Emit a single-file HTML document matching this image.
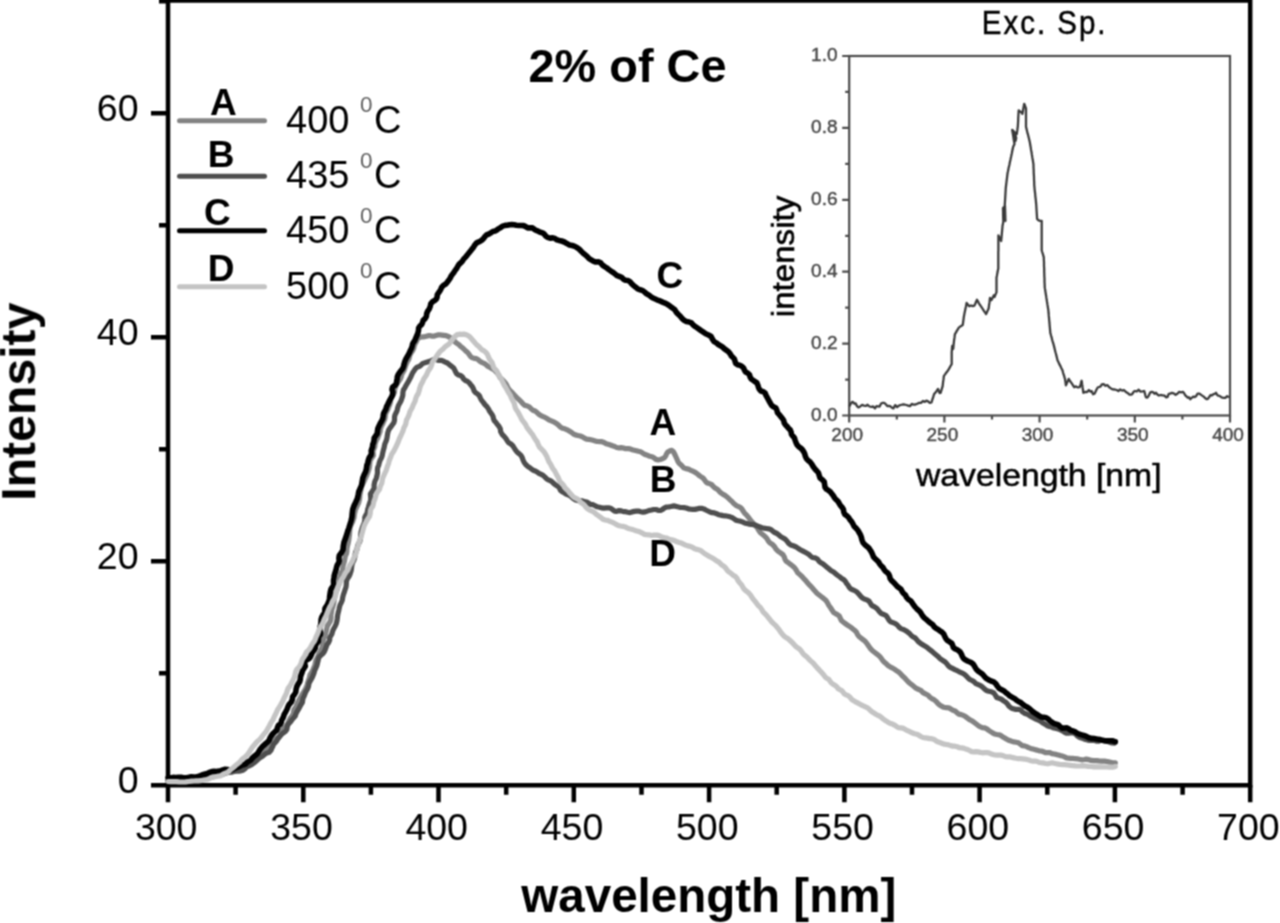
<!DOCTYPE html><html><head><meta charset="utf-8"><title>Emission spectra</title><style>html,body{margin:0;padding:0;background:#fff;overflow:hidden}svg{display:block}text{font-family:'Liberation Sans', Arial, sans-serif}</style></head><body>
<svg width="1280" height="923" viewBox="0 0 1280 923">
<defs><filter id="soft" x="0" y="0" width="1280" height="923" filterUnits="userSpaceOnUse" color-interpolation-filters="sRGB"><feConvolveMatrix order="3" kernelMatrix="0.0625 0.125 0.0625 0.125 0.25 0.125 0.0625 0.125 0.0625" edgeMode="duplicate"/></filter></defs>
<rect width="1280" height="923" fill="#fff"/>
<g filter="url(#soft)">
<rect width="1280" height="923" fill="#fff"/>
<g stroke="#000" stroke-width="4.5" fill="none" stroke-linecap="butt">
<path d="M168.0,785.2 L168.0,-2 M1250.1999999999998,787.45 L1250.1999999999998,-2 M165.75,785.2 L1252.4499999999998,785.2 M159.0,0.6 L1252.1999999999998,0.6"/>
<path d="M168.0,785.2 L168.0,802.2 M235.6,785.2 L235.6,794.7 M303.3,785.2 L303.3,802.2 M370.9,785.2 L370.9,794.7 M438.5,785.2 L438.5,802.2 M506.2,785.2 L506.2,794.7 M573.8,785.2 L573.8,802.2 M641.5,785.2 L641.5,794.7 M709.1,785.2 L709.1,802.2 M776.7,785.2 L776.7,794.7 M844.4,785.2 L844.4,802.2 M912.0,785.2 L912.0,794.7 M979.6,785.2 L979.6,802.2 M1047.3,785.2 L1047.3,794.7 M1114.9,785.2 L1114.9,802.2 M1182.6,785.2 L1182.6,794.7 M1250.2,785.2 L1250.2,802.2 M168.0,785.2 L151.0,785.2 M168.0,673.2 L159.0,673.2 M168.0,561.2 L151.0,561.2 M168.0,449.2 L159.0,449.2 M168.0,337.2 L151.0,337.2 M168.0,225.2 L159.0,225.2 M168.0,113.2 L151.0,113.2 M168.0,1.2 L159.0,1.2 "/>
</g>
<text x="166.2" y="840" font-size="37.5" text-anchor="middle">300</text>
<text x="301.5" y="840" font-size="37.5" text-anchor="middle">350</text>
<text x="436.7" y="840" font-size="37.5" text-anchor="middle">400</text>
<text x="572.0" y="840" font-size="37.5" text-anchor="middle">450</text>
<text x="707.3" y="840" font-size="37.5" text-anchor="middle">500</text>
<text x="842.6" y="840" font-size="37.5" text-anchor="middle">550</text>
<text x="977.9" y="840" font-size="37.5" text-anchor="middle">600</text>
<text x="1113.1" y="840" font-size="37.5" text-anchor="middle">650</text>
<text x="1248.4" y="840" font-size="37.5" text-anchor="middle">700</text>
<text x="138.5" y="793.3" font-size="37.5" text-anchor="end">0</text>
<text x="138.5" y="569.3" font-size="37.5" text-anchor="end">20</text>
<text x="138.5" y="345.3" font-size="37.5" text-anchor="end">40</text>
<text x="138.5" y="121.3" font-size="37.5" text-anchor="end">60</text>
<text transform="translate(35.2,500.8) rotate(-90)" font-size="47.5" font-weight="bold" textLength="198.2" lengthAdjust="spacingAndGlyphs">Intensity</text>
<text x="521.3" y="912" font-size="47.5" font-weight="bold" textLength="375" lengthAdjust="spacingAndGlyphs">wavelength [nm]</text>
<text x="528.5" y="82.2" font-size="47" font-weight="bold" textLength="198" lengthAdjust="spacingAndGlyphs">2% of Ce</text>
<line x1="179.5" y1="120.7" x2="264.5" y2="120.7" stroke="#838383" stroke-width="5" stroke-linecap="round"/>
<text x="223.4" y="114.7" font-size="37" font-weight="bold" text-anchor="middle">A</text>
<text x="286" y="132.5" font-size="38">400</text>
<text x="360" y="112.1" font-size="22.5" fill="#606060">0</text>
<text x="374" y="132.5" font-size="38">C</text>
<line x1="179.5" y1="176.2" x2="264.5" y2="176.2" stroke="#4e4e4e" stroke-width="5" stroke-linecap="round"/>
<text x="221.2" y="167.2" font-size="37" font-weight="bold" text-anchor="middle">B</text>
<text x="286" y="187.9" font-size="38">435</text>
<text x="360" y="167.5" font-size="22.5" fill="#606060">0</text>
<text x="374" y="187.9" font-size="38">C</text>
<line x1="179.5" y1="230.8" x2="264.5" y2="230.8" stroke="#000" stroke-width="5" stroke-linecap="round"/>
<text x="217.4" y="224.7" font-size="37" font-weight="bold" text-anchor="middle">C</text>
<text x="286" y="243.3" font-size="38">450</text>
<text x="360" y="222.9" font-size="22.5" fill="#606060">0</text>
<text x="374" y="243.3" font-size="38">C</text>
<line x1="179.5" y1="286.8" x2="264.5" y2="286.8" stroke="#c4c4c4" stroke-width="5" stroke-linecap="round"/>
<text x="221.1" y="281" font-size="37" font-weight="bold" text-anchor="middle">D</text>
<text x="286" y="298.7" font-size="38">500</text>
<text x="360" y="278.3" font-size="22.5" fill="#606060">0</text>
<text x="374" y="298.7" font-size="38">C</text>
<path d="M168.0,780.0 L170.7,779.8 L173.0,779.1 L175.7,778.5 L178.7,778.4 L181.8,778.5 L185.0,778.2 L188.1,778.1 L191.1,778.5 L193.8,778.8 L196.2,778.5 L198.4,777.9 L200.6,777.8 L202.7,777.4 L204.7,776.9 L206.7,777.0 L209.7,777.3 L212.5,777.1 L215.1,776.0 L217.6,775.2 L220.2,774.8 L222.5,774.2 L224.7,773.4 L226.7,772.5 L228.8,772.1 L231.3,771.8 L233.5,771.2 L235.8,770.2 L238.0,769.4 L240.0,769.0 L242.1,768.4 L244.2,767.5 L246.2,766.4 L248.3,765.2 L250.1,763.7 L252.1,762.2 L254.1,760.4 L255.7,758.3 L257.2,756.9 L259.1,756.0 L261.4,754.6 L263.3,752.8 L265.2,751.0 L266.7,749.6 L267.8,747.8 L269.2,746.2 L271.0,744.9 L272.6,743.4 L274.0,741.5 L275.1,739.5 L276.9,737.8 L279.1,736.4 L280.5,734.3 L281.1,731.6 L282.4,729.4 L284.4,727.5 L286.3,725.5 L287.8,723.2 L289.0,720.6 L290.3,718.1 L292.1,715.7 L293.2,714.0 L293.5,711.9 L293.9,709.8 L295.1,708.1 L296.2,706.3 L296.8,704.3 L297.6,702.5 L299.0,699.9 L300.4,697.4 L301.8,694.9 L303.4,692.5 L304.9,690.1 L306.1,687.6 L307.2,685.1 L307.8,682.4 L308.7,679.9 L309.5,677.3 L310.0,674.7 L311.5,672.6 L312.8,670.3 L313.7,667.9 L314.8,665.5 L315.3,663.0 L315.8,660.4 L317.0,658.1 L318.1,655.8 L319.0,653.5 L320.4,651.2 L321.5,649.0 L322.1,646.6 L322.6,644.2 L323.0,641.7 L323.6,639.2 L324.7,636.8 L325.4,634.3 L326.1,631.6 L326.7,628.8 L327.4,626.0 L329.0,623.5 L330.5,620.9 L331.0,618.1 L331.0,615.2 L331.4,612.4 L331.9,609.6 L332.7,606.9 L333.5,604.3 L334.0,601.7 L334.2,599.1 L334.7,596.7 L335.2,594.4 L335.9,592.2 L336.9,590.2 L337.6,588.0 L338.3,585.9 L339.2,583.7 L339.4,581.3 L339.4,578.9 L339.8,576.6 L340.2,574.3 L341.4,572.2 L342.7,570.2 L342.8,568.0 L343.1,565.5 L343.8,563.2 L344.4,561.2 L344.8,558.8 L345.4,556.0 L346.4,553.9 L346.9,551.5 L346.9,548.9 L347.4,546.2 L348.1,543.5 L348.7,540.6 L349.1,537.5 L349.5,534.4 L349.7,531.2 L350.0,527.9 L351.2,524.6 L352.8,521.3 L354.0,517.7 L354.5,513.9 L355.4,510.0 L357.0,506.3 L358.7,502.7 L359.6,498.9 L359.9,495.1 L360.6,491.5 L361.2,488.0 L362.4,484.6 L364.0,481.4 L365.4,478.2 L366.8,475.1 L368.0,472.0 L369.0,468.9 L369.6,465.8 L369.8,462.7 L370.4,459.9 L372.0,457.6 L373.4,455.4 L373.2,453.0 L373.0,450.6 L374.0,448.7 L374.8,446.8 L375.0,444.7 L375.5,442.6 L376.3,440.6 L377.4,438.5 L378.3,436.2 L379.2,433.8 L380.1,431.5 L380.4,428.8 L381.3,426.3 L382.6,424.0 L383.6,421.5 L384.8,419.1 L385.3,416.5 L385.6,413.9 L386.7,411.5 L387.9,409.1 L388.8,406.7 L389.8,404.2 L390.5,401.7 L390.7,399.0 L391.7,396.6 L393.4,394.5 L394.4,392.2 L394.6,389.6 L395.3,387.3 L396.3,385.1 L397.5,383.1 L398.9,381.1 L400.2,379.2 L401.1,377.1 L401.6,374.8 L402.6,372.8 L403.9,370.9 L404.7,368.7 L405.4,366.4 L406.3,364.1 L407.3,361.8 L408.6,359.6 L409.4,357.2 L410.0,354.9 L411.1,352.8 L412.4,351.0 L413.7,348.4 L414.2,346.0 L415.1,343.7 L416.4,341.6 L417.3,339.4 L418.8,337.8 L421.0,337.0 L423.1,336.8 L425.1,336.6 L427.6,335.9 L429.5,335.5 L431.6,336.1 L433.7,336.2 L435.9,335.5 L437.8,334.9 L439.8,334.8 L441.8,335.1 L444.0,335.4 L446.2,335.7 L448.4,336.5 L450.4,337.8 L452.2,339.0 L454.1,340.5 L455.3,342.1 L457.0,343.4 L458.9,344.7 L460.6,346.4 L462.6,347.8 L464.3,349.5 L465.9,351.1 L467.7,352.5 L469.1,354.3 L470.3,356.2 L471.9,357.6 L474.2,358.4 L476.5,358.7 L478.3,359.7 L479.8,361.3 L481.8,362.4 L484.0,363.3 L486.0,364.6 L487.5,366.0 L489.2,367.1 L491.0,368.1 L493.0,369.1 L494.7,370.2 L496.0,371.7 L497.5,373.3 L498.9,375.4 L499.9,377.4 L501.7,379.2 L504.0,381.4 L505.5,383.1 L506.8,385.3 L507.9,387.8 L509.4,390.0 L511.4,391.9 L513.2,393.8 L514.9,395.7 L516.6,397.4 L518.2,398.9 L519.8,400.4 L521.4,402.0 L522.8,403.7 L524.4,405.2 L526.5,405.7 L529.2,406.8 L531.1,408.8 L532.9,410.2 L535.1,411.0 L536.8,412.3 L538.5,414.0 L540.5,415.4 L542.6,416.4 L545.0,417.4 L547.3,418.8 L549.5,420.2 L551.9,421.2 L554.3,422.2 L556.5,423.5 L558.5,425.1 L560.3,427.0 L562.5,428.3 L564.9,428.8 L567.2,429.8 L569.2,431.0 L571.3,432.3 L573.2,433.8 L575.4,434.9 L577.9,435.5 L580.3,436.0 L582.5,436.9 L584.4,438.2 L586.5,439.2 L588.7,439.4 L590.9,439.8 L593.0,440.3 L595.2,440.9 L597.3,441.5 L599.6,441.6 L601.9,441.7 L604.1,442.5 L606.1,443.7 L608.2,444.3 L610.4,445.0 L612.5,445.8 L614.7,446.5 L616.7,447.5 L619.0,447.8 L621.3,447.6 L623.5,448.0 L625.6,448.7 L627.9,448.6 L630.1,448.9 L632.2,449.7 L634.3,450.2 L636.4,450.7 L638.5,451.3 L640.5,451.8 L642.3,452.8 L644.0,454.0 L645.9,454.7 L647.8,455.4 L649.8,456.3 L652.1,456.7 L653.9,457.8 L655.9,459.4 L658.2,459.9 L660.3,459.5 L662.4,458.8 L664.4,457.7 L665.7,456.0 L666.5,453.9 L667.8,452.0 L669.7,450.9 L671.9,450.4 L673.5,451.7 L674.3,453.5 L675.3,455.5 L676.2,457.5 L677.1,459.6 L678.0,461.6 L679.1,463.3 L680.8,464.7 L682.2,466.1 L683.7,467.8 L685.9,468.6 L688.4,469.1 L690.2,470.1 L692.2,470.9 L694.2,471.8 L696.1,473.0 L697.8,474.3 L699.4,475.7 L701.2,476.9 L703.0,478.0 L704.4,479.7 L705.7,481.6 L707.2,483.0 L709.3,483.6 L711.4,484.4 L713.0,486.1 L714.8,487.9 L716.6,488.8 L718.3,490.1 L719.7,491.8 L721.3,493.2 L723.1,494.4 L725.0,495.4 L726.7,496.7 L728.3,498.2 L729.9,499.7 L731.5,501.1 L732.9,502.6 L734.7,504.3 L736.4,505.6 L738.3,506.5 L740.3,507.3 L741.8,508.8 L743.1,511.1 L744.5,513.1 L746.4,514.9 L748.2,517.0 L749.9,519.3 L751.6,521.5 L753.5,523.6 L755.4,525.6 L757.3,527.7 L758.7,530.3 L760.4,532.7 L762.7,534.5 L764.9,536.4 L766.9,538.5 L768.3,541.0 L770.1,543.1 L772.6,544.6 L774.5,546.6 L776.0,549.1 L778.0,551.1 L780.5,552.8 L782.9,554.6 L784.4,557.3 L785.0,559.4 L786.1,561.1 L787.8,562.3 L790.2,564.2 L792.6,566.0 L794.7,567.9 L796.3,570.3 L797.7,572.8 L799.9,574.6 L802.0,576.5 L803.8,578.6 L805.8,580.6 L807.5,582.8 L809.4,584.9 L811.4,586.9 L813.2,589.0 L815.0,591.1 L816.9,593.2 L819.2,595.0 L821.4,596.7 L823.6,598.4 L825.8,600.2 L827.4,602.6 L828.7,605.2 L830.4,607.5 L832.0,610.0 L833.7,612.5 L835.5,613.6 L837.4,614.6 L839.2,615.8 L840.0,617.7 L841.4,620.5 L843.6,622.4 L845.9,624.0 L848.1,625.6 L850.4,626.9 L852.4,628.6 L854.5,630.2 L856.4,632.1 L857.6,634.7 L859.3,636.8 L861.4,638.4 L863.6,640.1 L865.6,641.8 L867.3,644.0 L868.8,646.3 L870.5,648.6 L872.5,650.7 L874.8,652.5 L877.2,654.3 L879.5,656.2 L881.3,658.4 L882.8,660.7 L884.7,662.5 L886.6,664.1 L888.4,665.8 L890.5,667.1 L892.7,668.1 L894.7,669.4 L896.8,670.9 L899.0,672.3 L900.9,674.1 L902.5,676.1 L904.5,677.8 L906.3,679.8 L908.1,681.7 L910.1,683.4 L912.2,685.1 L914.2,686.7 L916.3,688.4 L918.8,689.5 L921.2,690.7 L923.0,692.6 L925.4,693.9 L927.8,695.0 L929.6,696.9 L931.7,698.6 L934.0,699.7 L936.0,701.3 L937.7,703.3 L939.6,705.0 L941.6,706.2 L943.8,707.3 L946.2,707.7 L948.8,707.8 L950.8,709.0 L952.9,710.2 L955.1,710.9 L956.9,712.7 L958.8,714.1 L961.2,714.6 L963.4,715.4 L965.5,716.6 L967.5,718.1 L969.5,719.6 L971.8,720.8 L974.0,722.2 L975.9,723.7 L977.9,725.3 L979.9,726.7 L982.2,727.6 L984.7,727.9 L986.8,728.9 L988.7,730.4 L990.6,731.6 L992.6,732.9 L994.6,734.0 L997.0,734.5 L999.4,734.8 L1001.4,735.9 L1003.4,737.3 L1005.4,738.4 L1007.4,739.6 L1009.5,740.6 L1011.7,741.3 L1013.9,741.9 L1016.2,742.3 L1018.5,742.8 L1020.3,744.2 L1022.2,745.6 L1024.5,745.9 L1026.6,746.6 L1028.6,747.6 L1030.7,748.4 L1032.8,749.0 L1035.0,749.6 L1037.1,750.1 L1039.2,750.8 L1041.4,751.0 L1043.4,751.7 L1045.4,752.7 L1047.7,752.5 L1049.9,752.7 L1051.9,753.6 L1054.1,754.0 L1056.2,754.4 L1058.3,755.0 L1060.3,755.6 L1062.5,756.0 L1064.5,756.9 L1066.5,757.9 L1068.6,758.2 L1070.7,758.3 L1072.9,758.4 L1075.0,758.7 L1077.2,758.8 L1079.2,759.3 L1081.7,759.8 L1084.3,759.5 L1086.3,759.1 L1088.5,759.6 L1091.0,760.4 L1094.0,760.7 L1096.4,760.6 L1099.0,760.9 L1101.8,761.1 L1104.6,761.1 L1107.2,761.5 L1109.7,762.1 L1112.0,762.5 L1114.6,762.8 L1115.3,762.8" fill="none" stroke="#838383" stroke-width="5.2" stroke-linejoin="round" stroke-linecap="round"/>
<path d="M168.0,781.1 L170.7,779.3 L173.0,779.0 L175.7,779.3 L178.7,779.0 L181.8,778.4 L185.0,778.2 L188.1,778.1 L191.0,777.8 L193.7,777.8 L196.1,777.9 L198.4,777.8 L200.6,777.7 L202.7,777.7 L204.6,776.7 L207.5,775.9 L210.5,776.5 L213.2,776.2 L215.8,775.5 L218.3,775.4 L220.7,775.0 L222.8,774.2 L224.9,773.4 L227.0,772.7 L229.2,772.3 L231.5,772.2 L233.8,771.5 L236.2,771.1 L238.6,771.1 L240.9,770.8 L243.0,770.2 L244.7,768.9 L246.5,766.9 L248.7,766.1 L251.0,765.0 L253.0,763.6 L255.1,762.2 L257.0,760.4 L258.8,758.7 L260.9,757.2 L262.6,756.3 L264.1,754.7 L266.1,753.4 L269.0,752.4 L271.0,750.2 L271.8,748.2 L272.8,746.3 L273.6,744.3 L275.1,742.7 L276.5,741.1 L277.6,739.2 L279.0,737.5 L280.3,735.8 L281.7,734.1 L283.5,732.7 L285.5,731.4 L286.8,729.5 L287.2,727.0 L287.9,724.7 L289.4,723.0 L290.9,721.4 L292.1,719.5 L293.7,717.8 L295.2,716.1 L295.9,713.9 L296.9,711.8 L298.1,709.9 L299.2,708.0 L300.2,706.0 L301.3,704.1 L302.4,702.3 L302.7,700.1 L303.1,698.0 L304.1,696.2 L304.8,694.3 L305.9,691.6 L307.5,689.0 L308.5,686.3 L309.0,683.4 L310.3,680.9 L311.8,678.3 L313.0,675.7 L314.0,673.0 L314.7,670.4 L315.8,668.1 L316.7,666.0 L317.4,663.5 L317.9,661.4 L318.4,659.0 L319.3,656.8 L320.9,655.3 L322.8,653.8 L324.2,651.8 L325.2,649.7 L326.1,647.1 L326.9,644.8 L328.5,642.6 L329.7,639.9 L329.7,637.8 L330.7,636.0 L331.8,634.2 L332.6,631.3 L333.7,628.7 L335.1,626.3 L336.2,623.7 L336.9,621.1 L337.3,618.4 L337.6,615.6 L338.1,613.0 L338.8,610.3 L339.3,607.7 L340.0,605.1 L341.3,602.6 L342.3,600.1 L342.7,597.4 L343.4,594.7 L344.3,592.2 L345.1,589.6 L346.0,587.0 L346.3,584.3 L346.4,581.4 L347.3,578.9 L348.9,576.5 L350.1,574.0 L351.0,571.3 L351.5,568.5 L351.8,565.7 L352.4,563.1 L353.6,560.8 L354.4,558.6 L354.9,556.5 L355.2,554.0 L355.9,551.5 L356.9,549.5 L357.4,547.0 L358.3,544.1 L359.5,542.1 L360.3,539.8 L360.6,537.2 L360.7,534.5 L361.1,531.9 L361.8,529.3 L362.6,526.8 L363.6,524.4 L364.5,522.1 L364.7,519.7 L364.8,517.4 L365.7,515.4 L366.9,513.5 L367.4,511.5 L367.7,509.3 L368.4,507.2 L369.0,505.0 L369.8,502.6 L370.7,500.2 L370.7,497.3 L370.4,494.0 L372.3,491.2 L374.1,488.3 L374.1,484.8 L374.8,481.5 L376.2,478.5 L377.0,475.5 L377.5,472.6 L377.4,469.9 L377.7,467.5 L378.6,465.5 L379.3,462.7 L380.1,460.2 L381.4,458.0 L382.2,455.6 L382.7,452.9 L383.4,450.0 L384.0,448.0 L384.4,445.9 L384.9,443.8 L385.8,441.8 L386.5,439.8 L387.0,437.8 L387.3,435.7 L387.8,432.8 L388.6,430.2 L389.9,428.1 L391.2,426.4 L392.5,424.6 L393.8,422.7 L394.5,420.2 L394.5,417.1 L395.0,414.9 L396.1,412.8 L397.1,410.4 L397.7,407.8 L398.6,405.2 L400.0,402.8 L401.2,400.3 L402.1,397.7 L402.8,395.2 L402.9,392.5 L403.4,390.0 L404.8,387.8 L406.0,385.6 L407.3,383.3 L408.6,381.2 L409.7,379.0 L410.8,377.0 L411.6,375.1 L412.8,372.5 L414.1,370.7 L415.3,368.8 L417.0,367.2 L419.0,366.6 L420.8,365.3 L422.5,363.7 L424.5,362.9 L426.6,362.2 L428.7,361.6 L430.9,360.9 L433.1,359.8 L435.4,359.2 L437.5,360.1 L439.5,360.5 L441.5,360.4 L443.6,361.2 L445.3,362.1 L447.4,363.0 L449.3,364.6 L451.3,366.1 L453.4,367.7 L454.5,369.5 L455.4,371.6 L456.5,373.6 L458.3,374.9 L460.7,375.6 L462.6,377.1 L463.6,379.0 L465.4,380.5 L467.6,381.4 L469.5,383.1 L470.8,384.8 L472.2,386.5 L473.3,388.5 L474.1,390.9 L475.9,392.9 L477.8,394.1 L479.4,395.8 L480.4,398.1 L481.6,400.4 L483.3,402.4 L484.9,404.6 L486.9,406.6 L488.6,409.1 L489.4,411.0 L490.7,412.7 L492.0,414.5 L493.0,416.4 L493.5,418.7 L494.3,420.7 L495.8,422.3 L496.9,423.9 L498.9,426.2 L500.3,428.7 L500.7,431.8 L502.1,434.3 L504.1,436.3 L505.8,438.4 L507.2,440.7 L508.7,442.8 L511.1,444.1 L512.9,445.9 L514.2,448.0 L515.5,450.0 L517.0,452.0 L519.0,453.6 L521.0,455.4 L522.2,457.6 L523.1,460.2 L524.2,462.5 L525.7,464.5 L527.5,466.2 L529.5,467.4 L531.2,468.9 L533.1,470.2 L535.3,470.9 L537.1,471.9 L538.8,473.3 L540.7,474.2 L543.1,475.4 L545.0,477.1 L546.8,479.0 L549.0,480.2 L551.0,481.0 L552.6,482.3 L554.2,483.9 L556.0,485.3 L558.0,486.4 L559.5,488.1 L560.5,490.3 L562.0,491.7 L564.0,492.6 L565.7,493.8 L567.5,494.6 L569.9,495.7 L571.9,497.2 L573.7,498.8 L575.7,500.0 L577.9,500.6 L580.1,500.6 L582.4,500.9 L584.6,501.5 L586.8,502.0 L588.8,503.4 L590.8,504.5 L593.1,504.7 L595.2,505.8 L597.2,506.8 L599.5,507.2 L601.6,507.9 L603.9,508.2 L606.2,507.9 L608.5,507.8 L610.6,508.3 L612.6,509.6 L614.6,511.1 L616.8,511.3 L619.1,510.6 L621.3,510.9 L623.4,511.6 L625.6,511.7 L627.8,512.3 L629.9,512.6 L632.1,511.9 L634.3,511.4 L636.4,511.2 L638.5,511.1 L640.8,511.7 L643.0,512.2 L645.2,511.9 L647.3,511.1 L649.4,510.4 L651.5,510.0 L653.7,509.5 L655.9,509.5 L658.2,510.3 L660.5,510.5 L662.6,509.4 L664.5,507.9 L666.6,507.0 L668.8,506.9 L671.0,506.5 L673.2,505.9 L675.4,506.2 L677.6,506.8 L679.7,507.3 L681.9,507.5 L684.1,507.6 L686.2,508.0 L688.3,508.8 L690.5,509.1 L692.7,509.3 L694.9,509.4 L697.1,508.9 L699.3,508.3 L701.6,508.3 L703.8,508.9 L705.8,510.0 L707.9,511.0 L709.9,512.0 L712.1,512.7 L714.4,512.9 L716.5,513.7 L718.6,514.7 L720.8,515.1 L723.0,515.6 L725.3,515.8 L727.7,516.2 L730.1,516.8 L732.3,517.7 L734.1,518.9 L736.1,520.2 L738.1,520.8 L740.2,521.1 L742.3,521.9 L744.6,522.9 L746.7,523.5 L748.9,524.1 L751.3,524.4 L753.7,524.7 L755.9,525.3 L757.9,526.2 L759.9,527.0 L762.0,527.8 L764.1,528.2 L766.3,528.5 L768.6,528.8 L770.8,529.5 L772.7,531.1 L774.7,532.5 L777.0,533.5 L779.0,535.1 L780.9,536.8 L783.2,538.0 L785.3,539.3 L787.1,541.2 L788.7,543.4 L790.7,545.0 L793.3,545.8 L795.7,546.7 L797.8,548.1 L799.9,549.5 L802.1,550.7 L804.3,551.8 L806.5,553.0 L808.6,554.2 L810.4,556.0 L812.4,557.5 L815.1,557.9 L817.4,559.0 L819.0,561.2 L820.9,562.8 L823.2,564.1 L825.2,565.7 L827.2,567.4 L829.2,569.1 L831.2,570.7 L833.6,572.0 L835.6,573.7 L837.8,575.5 L840.2,577.2 L841.7,578.5 L843.7,579.6 L845.3,581.3 L846.5,583.4 L848.0,585.2 L849.3,587.4 L851.0,589.1 L853.3,590.0 L855.4,591.0 L857.1,592.2 L859.0,594.3 L860.7,596.3 L862.5,598.0 L864.6,599.1 L866.8,599.9 L868.9,601.0 L870.3,603.1 L871.7,605.4 L874.0,606.6 L876.2,607.9 L878.0,609.8 L879.6,611.8 L881.4,613.6 L883.9,614.5 L886.2,615.6 L887.6,617.7 L888.9,620.1 L890.7,621.8 L893.0,622.7 L895.4,623.6 L897.3,625.0 L898.9,627.0 L900.8,628.6 L903.2,629.4 L905.4,630.5 L907.4,631.8 L909.4,633.3 L911.0,635.2 L912.9,636.7 L915.1,637.9 L916.8,639.7 L918.3,641.7 L920.3,643.2 L922.3,644.5 L924.4,645.8 L926.5,647.0 L928.4,648.6 L930.4,650.1 L932.3,651.6 L934.1,653.2 L935.9,654.7 L937.7,656.2 L939.4,657.9 L941.2,659.4 L943.2,660.7 L945.2,662.0 L946.8,663.7 L948.3,665.8 L950.3,667.3 L952.5,668.4 L954.8,669.6 L957.2,670.6 L959.3,671.9 L961.7,672.9 L964.0,674.0 L966.0,675.7 L967.7,677.6 L969.6,679.4 L972.0,680.5 L974.1,681.8 L975.9,683.7 L978.3,684.7 L980.6,685.7 L982.6,687.2 L984.4,688.9 L986.4,690.5 L988.8,691.3 L991.5,691.8 L993.8,692.9 L995.3,695.1 L996.8,697.5 L999.2,698.4 L1001.6,699.3 L1003.6,700.8 L1005.7,702.2 L1007.5,704.0 L1009.0,706.2 L1011.0,707.8 L1013.3,708.8 L1015.8,709.4 L1018.5,709.3 L1020.8,710.0 L1022.5,711.9 L1024.4,713.2 L1026.7,714.0 L1028.7,715.0 L1030.7,716.4 L1032.8,717.5 L1035.0,718.6 L1037.1,719.6 L1039.4,720.5 L1041.4,721.8 L1043.4,723.3 L1045.4,724.4 L1047.4,725.7 L1049.6,726.5 L1051.8,727.1 L1053.9,728.0 L1056.2,728.4 L1058.4,729.0 L1060.5,729.8 L1062.5,730.8 L1064.4,732.1 L1066.4,733.2 L1068.7,733.1 L1071.2,732.7 L1073.5,733.0 L1075.5,734.0 L1077.3,735.8 L1079.2,737.2 L1081.4,737.9 L1083.6,738.7 L1085.7,739.5 L1087.8,740.1 L1089.9,740.5 L1092.1,740.3 L1094.2,740.3 L1096.3,741.1 L1098.4,741.2 L1100.5,740.4 L1102.7,740.4 L1105.1,741.0 L1107.5,741.6 L1109.9,742.2 L1112.0,743.0 L1114.4,743.1 L1115.3,742.1" fill="none" stroke="#4e4e4e" stroke-width="5.2" stroke-linejoin="round" stroke-linecap="round"/>
<path d="M168.0,777.6 L170.7,777.9 L173.0,777.4 L175.8,777.5 L178.8,777.2 L181.9,777.4 L185.1,778.0 L188.2,777.4 L191.2,776.8 L193.9,777.1 L196.2,777.0 L198.4,776.3 L200.5,775.6 L202.5,774.7 L204.4,774.2 L207.2,773.5 L209.6,772.4 L211.9,771.5 L214.1,771.3 L216.6,771.5 L218.9,771.1 L220.9,770.6 L222.9,769.9 L225.2,769.3 L227.6,769.5 L229.9,770.0 L232.0,769.7 L234.1,768.8 L236.0,767.8 L237.9,767.0 L239.8,766.3 L241.4,765.3 L243.4,764.8 L245.5,764.1 L247.0,762.4 L249.0,761.2 L250.9,760.0 L252.2,758.1 L253.9,756.6 L255.9,755.1 L257.8,753.2 L259.0,751.1 L260.3,749.0 L262.0,747.1 L263.8,745.3 L265.6,743.7 L267.5,742.1 L269.1,740.3 L270.0,737.9 L271.3,735.8 L272.8,733.8 L274.7,732.0 L276.7,730.1 L277.6,727.2 L278.4,725.4 L280.3,724.1 L281.3,722.2 L281.7,720.1 L282.8,718.3 L283.6,716.4 L284.2,714.4 L285.7,711.8 L287.0,709.3 L288.0,706.6 L289.3,704.2 L291.3,702.1 L292.3,699.5 L292.6,696.7 L294.4,694.5 L295.8,692.0 L296.1,689.1 L296.9,686.4 L298.2,683.9 L299.7,681.6 L300.3,679.2 L300.5,676.8 L301.2,674.6 L302.0,672.6 L302.6,670.6 L304.0,668.3 L305.3,666.2 L304.7,663.3 L304.9,660.9 L307.4,659.5 L309.4,658.3 L310.6,656.4 L311.5,654.3 L312.6,652.1 L314.1,650.1 L315.3,647.9 L315.6,645.4 L316.7,643.4 L318.3,641.7 L318.4,639.4 L318.7,637.0 L320.4,634.6 L320.5,632.4 L319.7,629.8 L319.9,627.4 L320.7,624.9 L321.0,622.3 L321.1,619.6 L321.9,616.9 L323.5,614.3 L324.8,612.6 L324.8,610.4 L325.0,608.3 L326.3,606.5 L327.4,604.7 L328.6,602.0 L329.5,599.4 L329.6,596.6 L330.0,594.0 L330.4,591.5 L331.0,589.1 L332.4,587.0 L333.6,585.0 L333.6,582.7 L333.5,580.7 L333.9,578.2 L334.2,575.8 L334.8,573.5 L335.5,571.3 L336.2,569.1 L336.6,567.1 L337.3,565.0 L338.6,562.9 L339.2,560.9 L338.9,558.3 L339.3,555.4 L341.4,552.7 L343.0,549.7 L343.3,546.0 L344.0,542.3 L345.3,538.8 L346.5,535.2 L347.6,531.5 L348.8,528.1 L349.9,524.6 L351.0,521.0 L351.9,517.2 L352.2,513.3 L352.7,509.4 L354.0,505.7 L355.7,502.2 L357.3,498.7 L358.1,495.1 L358.8,491.5 L360.3,488.3 L361.6,485.0 L362.2,481.5 L362.8,478.0 L364.1,474.8 L365.6,471.8 L366.4,468.7 L366.8,465.5 L367.8,462.7 L368.4,459.9 L369.3,457.4 L370.9,455.3 L371.4,453.0 L371.2,450.7 L371.9,448.7 L372.5,446.7 L372.7,444.6 L373.5,442.6 L374.0,440.5 L374.2,438.1 L375.6,435.9 L377.1,433.8 L377.5,431.2 L377.8,428.6 L378.9,426.2 L380.0,423.8 L381.4,421.5 L382.6,419.1 L383.1,416.5 L383.5,413.8 L384.6,411.5 L385.9,409.1 L386.6,406.6 L387.8,404.2 L388.9,401.8 L390.1,399.5 L391.5,397.3 L392.5,394.9 L392.8,392.3 L392.0,389.4 L392.6,387.0 L395.0,385.4 L396.3,383.4 L396.7,381.1 L397.1,378.7 L397.4,376.4 L398.4,374.3 L399.6,372.4 L401.1,370.5 L402.6,368.7 L403.5,366.5 L404.1,364.0 L404.8,361.5 L405.8,359.2 L407.0,357.0 L408.3,354.9 L409.4,352.8 L410.2,350.8 L411.5,348.3 L412.1,346.2 L412.6,344.1 L413.5,342.3 L414.9,340.3 L415.7,338.3 L416.7,335.9 L417.8,333.3 L418.5,330.3 L418.6,328.0 L419.8,326.2 L421.6,324.7 L422.5,322.6 L423.2,320.4 L425.1,318.6 L426.4,316.3 L426.7,313.6 L427.7,311.1 L429.3,308.9 L430.2,306.4 L430.8,303.8 L432.3,301.9 L434.6,300.5 L436.3,299.1 L437.1,297.1 L437.3,294.8 L438.9,292.3 L440.5,290.0 L441.6,287.4 L443.4,285.4 L445.8,284.0 L447.4,282.0 L448.8,280.1 L450.2,278.2 L451.1,276.1 L452.4,274.3 L453.7,272.7 L454.8,270.9 L456.4,268.8 L457.6,266.7 L458.8,264.6 L460.6,262.9 L462.3,261.2 L463.6,259.1 L465.3,257.3 L467.0,255.4 L468.5,253.4 L470.1,251.4 L471.7,249.4 L473.4,247.4 L474.7,245.1 L476.4,243.1 L478.3,242.1 L480.2,241.2 L482.1,239.9 L483.7,238.3 L485.0,236.4 L486.5,234.9 L489.0,234.0 L490.8,232.8 L492.8,231.5 L495.0,231.1 L496.9,230.0 L498.8,228.6 L500.8,227.5 L502.7,226.1 L505.1,225.4 L507.3,225.3 L509.5,224.8 L511.8,224.6 L514.1,224.8 L516.4,225.3 L518.7,225.5 L521.1,225.5 L523.6,225.6 L525.7,226.6 L527.7,227.9 L530.2,227.9 L532.5,227.9 L534.3,229.3 L536.1,230.4 L538.2,231.2 L540.2,232.2 L542.6,232.9 L544.3,234.1 L545.7,236.0 L547.5,237.4 L549.9,238.1 L552.9,237.9 L554.9,238.4 L556.7,239.7 L559.0,240.4 L561.6,241.0 L564.3,242.0 L566.9,243.6 L569.5,244.9 L572.2,245.5 L574.8,246.4 L577.2,247.7 L579.3,249.3 L581.2,251.3 L583.2,253.2 L585.3,254.9 L587.3,256.6 L589.1,258.6 L591.2,259.9 L593.3,261.2 L595.6,262.0 L598.4,261.8 L600.6,262.8 L602.2,264.9 L604.3,266.4 L606.6,267.8 L608.7,269.5 L610.9,271.1 L613.2,272.5 L615.2,274.1 L617.2,275.7 L619.5,276.5 L621.7,277.3 L623.4,279.2 L625.5,280.3 L628.1,280.5 L630.1,281.8 L631.8,283.9 L633.7,285.6 L635.7,287.2 L637.7,288.9 L640.2,289.8 L642.8,290.6 L644.7,292.1 L646.6,293.8 L648.7,294.9 L650.6,296.4 L652.5,297.8 L654.7,298.8 L656.9,299.8 L659.2,300.6 L661.5,301.6 L663.8,302.7 L666.2,303.7 L668.4,305.0 L670.5,306.6 L672.7,308.1 L674.8,309.8 L676.3,312.2 L678.2,314.2 L680.3,316.2 L682.0,318.4 L684.0,320.3 L686.4,321.5 L689.1,322.0 L691.4,322.9 L693.1,324.8 L694.9,326.4 L697.0,327.7 L699.0,329.1 L701.1,330.6 L703.4,332.1 L705.7,333.7 L708.5,335.0 L711.1,336.5 L712.4,339.2 L714.1,341.6 L716.4,342.9 L718.3,344.5 L720.4,345.7 L722.4,346.9 L724.2,348.6 L726.3,350.1 L728.5,351.7 L730.3,354.0 L731.3,355.9 L732.8,357.3 L734.3,358.9 L735.0,361.1 L735.7,363.4 L737.6,364.7 L740.2,365.4 L742.2,366.6 L743.7,368.2 L744.5,370.3 L745.7,372.1 L747.9,373.2 L749.5,374.7 L750.1,377.0 L751.3,379.0 L753.1,380.3 L755.0,381.6 L756.9,382.9 L757.8,385.0 L758.5,387.3 L759.4,389.3 L760.8,391.0 L763.3,391.7 L765.1,393.0 L765.9,395.2 L767.0,397.2 L768.1,399.1 L769.2,401.2 L770.4,403.2 L771.5,405.3 L773.4,406.8 L775.9,408.1 L776.9,410.4 L777.6,412.9 L779.3,414.7 L780.8,416.6 L782.4,418.5 L783.7,420.5 L784.2,422.9 L785.5,424.8 L787.1,426.5 L788.5,428.3 L790.2,429.9 L791.1,432.0 L791.5,434.4 L792.9,436.2 L794.4,437.9 L795.1,440.1 L795.9,442.4 L796.9,444.6 L798.5,446.4 L800.5,447.9 L802.3,449.6 L803.6,451.6 L804.7,453.8 L805.4,456.4 L806.4,458.6 L808.1,460.5 L810.2,462.1 L811.8,464.2 L813.1,466.5 L814.7,468.7 L816.6,470.7 L818.4,472.8 L819.2,475.4 L820.1,478.1 L822.3,479.8 L824.2,481.7 L824.6,484.4 L825.0,487.2 L826.5,489.2 L828.8,490.6 L830.6,492.2 L832.0,494.1 L833.5,496.0 L834.7,498.1 L836.3,499.8 L838.1,501.5 L839.3,503.6 L840.5,505.7 L842.2,507.5 L843.4,509.5 L843.8,512.2 L844.8,514.4 L847.0,515.8 L848.7,517.6 L849.9,519.7 L851.6,521.6 L852.9,523.8 L854.0,526.2 L856.0,528.1 L857.8,530.2 L859.1,532.5 L860.5,534.9 L861.4,537.5 L862.1,540.2 L863.1,542.7 L864.9,544.8 L867.0,546.4 L868.9,548.1 L870.3,550.2 L871.6,552.3 L872.6,554.6 L873.5,556.9 L875.1,558.7 L877.0,560.3 L878.6,562.0 L879.8,564.1 L881.2,565.9 L882.9,567.4 L884.0,569.4 L885.3,571.2 L887.2,572.5 L888.7,574.1 L889.6,576.1 L890.1,578.4 L891.2,580.1 L893.4,582.2 L895.2,584.2 L897.0,586.2 L899.0,587.8 L901.0,589.3 L902.1,591.6 L903.6,593.5 L905.5,595.2 L906.6,597.5 L908.3,599.4 L910.6,600.8 L912.1,602.7 L913.5,604.9 L915.1,607.0 L916.9,609.0 L919.1,610.8 L920.9,613.1 L922.4,615.7 L924.3,617.9 L926.5,619.7 L928.5,621.5 L930.5,623.2 L932.7,624.6 L934.1,626.8 L936.0,628.3 L938.1,629.4 L939.8,630.8 L942.0,632.2 L943.7,633.9 L944.7,636.3 L945.9,638.6 L947.2,640.3 L949.4,641.7 L951.8,643.4 L952.7,645.4 L953.4,647.7 L955.2,648.9 L957.3,649.8 L959.1,651.0 L960.5,652.5 L961.5,654.4 L962.3,656.4 L963.4,658.2 L964.8,659.6 L966.7,660.6 L968.7,661.5 L970.7,662.3 L973.1,664.1 L974.7,666.6 L976.2,669.2 L978.2,671.1 L980.5,672.7 L982.6,674.3 L984.4,676.5 L986.3,678.4 L988.6,679.9 L991.0,681.0 L993.7,681.9 L995.7,683.6 L997.2,685.9 L998.9,688.2 L1001.2,689.4 L1003.6,690.7 L1005.6,692.4 L1007.7,694.0 L1009.7,695.8 L1012.0,697.2 L1014.4,698.4 L1016.4,700.1 L1018.5,701.5 L1020.8,702.6 L1022.7,704.3 L1024.7,705.9 L1027.0,707.0 L1029.1,708.3 L1031.0,710.0 L1032.8,711.7 L1034.9,713.1 L1037.0,714.4 L1039.0,715.8 L1041.2,716.9 L1043.7,717.3 L1046.2,717.7 L1048.2,719.1 L1049.9,720.8 L1051.9,722.2 L1053.9,723.5 L1056.2,724.1 L1058.4,724.8 L1060.1,726.7 L1062.0,728.1 L1064.6,728.0 L1067.0,727.9 L1069.0,729.0 L1070.9,730.4 L1073.2,731.0 L1075.3,731.9 L1077.2,733.3 L1079.4,734.3 L1081.6,734.9 L1083.8,735.5 L1085.9,736.2 L1087.9,737.3 L1089.9,738.1 L1092.1,738.4 L1094.2,738.5 L1096.3,738.9 L1098.3,739.4 L1100.4,739.6 L1102.6,740.3 L1104.9,740.8 L1107.4,740.9 L1109.9,740.7 L1112.2,740.8 L1114.5,741.5 L1115.3,741.7" fill="none" stroke="#000" stroke-width="5.6" stroke-linejoin="round" stroke-linecap="round"/>
<path d="M168.0,781.5 L170.7,781.6 L173.2,781.5 L176.0,781.7 L179.1,781.9 L182.3,782.0 L185.6,781.9 L188.6,781.5 L191.5,781.2 L193.9,781.0 L195.9,780.8 L198.4,780.8 L200.5,780.7 L202.7,780.3 L204.9,780.0 L207.1,779.7 L209.5,778.7 L211.3,777.5 L213.3,777.1 L215.3,776.7 L217.8,776.2 L220.1,775.9 L222.2,774.7 L224.0,773.6 L226.1,772.9 L228.0,772.0 L229.5,770.6 L231.1,769.3 L232.8,768.0 L234.5,766.6 L236.1,765.0 L238.0,763.6 L239.6,762.3 L241.0,760.5 L242.5,758.9 L244.6,757.4 L246.5,755.6 L248.0,753.8 L249.6,751.7 L250.9,749.4 L252.5,747.1 L254.3,745.1 L255.8,743.1 L257.5,741.3 L259.4,739.8 L261.0,738.0 L262.4,736.0 L264.0,734.0 L265.8,732.0 L267.3,729.6 L268.7,727.0 L269.8,725.2 L270.6,723.3 L271.7,721.5 L273.0,719.7 L273.8,717.7 L274.7,715.7 L275.8,713.7 L276.7,711.7 L277.6,709.6 L278.9,707.7 L280.2,705.7 L281.3,703.6 L282.5,701.6 L283.5,699.4 L284.4,697.2 L285.5,695.2 L286.5,693.1 L287.2,690.9 L287.9,688.8 L289.1,687.0 L290.4,685.1 L291.4,683.2 L292.4,681.3 L293.4,679.4 L294.2,677.4 L294.9,675.5 L295.3,673.3 L295.8,671.3 L296.7,669.5 L298.1,667.9 L299.5,666.4 L300.9,663.8 L301.8,660.9 L302.9,658.4 L304.5,656.3 L305.5,654.0 L306.6,651.9 L308.3,650.4 L309.7,648.8 L310.7,647.1 L311.9,644.8 L313.1,642.7 L314.4,641.2 L315.4,639.0 L316.0,637.1 L317.1,634.8 L318.1,632.6 L319.1,629.9 L319.8,627.9 L320.8,626.1 L322.1,624.2 L323.1,622.3 L323.9,620.2 L324.7,618.2 L325.7,616.5 L326.9,613.9 L327.8,611.5 L328.7,609.1 L329.8,606.9 L331.1,604.7 L332.0,602.4 L333.3,600.1 L334.9,597.8 L335.7,595.0 L336.3,592.0 L337.0,589.2 L338.0,586.5 L339.3,584.1 L340.3,581.8 L341.3,579.8 L342.6,578.1 L343.7,576.4 L344.8,574.0 L346.3,571.8 L347.7,570.2 L348.7,567.8 L349.6,565.5 L351.2,563.3 L352.3,561.4 L353.3,559.0 L354.2,557.1 L355.2,555.1 L356.2,552.9 L356.7,550.3 L357.5,547.7 L358.3,545.1 L359.0,542.4 L360.0,539.7 L360.9,537.0 L361.7,534.4 L362.5,531.7 L363.2,529.0 L364.0,526.3 L365.1,523.7 L366.5,521.2 L368.0,518.7 L369.5,516.3 L370.2,513.6 L370.4,510.7 L371.3,508.3 L372.8,506.2 L373.4,503.8 L373.9,501.5 L374.8,499.3 L375.4,497.2 L376.0,495.0 L376.8,493.0 L378.1,491.2 L379.5,489.3 L380.0,487.2 L380.8,485.1 L381.8,483.1 L382.2,480.7 L382.6,478.4 L383.5,476.3 L384.4,474.2 L385.3,472.2 L386.2,470.3 L386.8,468.3 L387.7,465.7 L388.6,463.3 L389.1,461.0 L389.8,459.1 L390.8,456.8 L391.6,454.4 L393.0,452.3 L394.3,450.2 L395.3,448.2 L396.3,446.1 L397.3,443.9 L398.3,441.6 L399.0,439.7 L399.8,437.7 L400.8,435.8 L401.7,433.8 L402.6,431.8 L403.3,429.8 L403.9,427.8 L404.9,425.9 L405.8,423.9 L406.1,421.8 L406.6,419.7 L407.6,418.0 L408.7,415.7 L409.4,413.5 L410.0,411.5 L411.0,409.7 L412.1,407.8 L413.0,405.3 L414.0,403.3 L415.1,401.1 L415.7,398.6 L416.6,396.2 L418.0,394.0 L418.8,391.8 L419.4,389.7 L419.9,387.7 L420.7,385.3 L421.9,383.1 L423.0,380.8 L423.8,378.9 L425.0,377.1 L426.3,375.2 L427.3,373.1 L428.2,371.0 L429.6,369.0 L430.8,367.1 L431.6,365.0 L432.2,362.7 L433.2,360.7 L434.7,359.1 L436.0,357.3 L437.0,355.5 L438.6,353.4 L440.0,351.5 L441.6,350.1 L443.2,348.9 L444.5,347.3 L446.3,345.9 L448.5,344.4 L449.9,342.9 L451.2,341.2 L452.3,339.5 L454.0,337.6 L455.4,336.1 L457.3,334.6 L459.5,334.2 L461.6,334.3 L463.7,334.1 L465.9,334.6 L467.7,335.4 L469.7,336.7 L471.2,338.4 L472.6,340.2 L474.2,341.8 L475.5,343.5 L477.1,345.1 L478.9,346.5 L480.3,348.2 L482.0,349.8 L483.8,350.7 L485.5,352.0 L487.3,354.1 L488.3,356.6 L489.6,359.4 L491.0,361.1 L492.2,363.0 L492.9,365.2 L493.7,367.4 L495.0,369.2 L496.7,370.9 L497.6,372.7 L498.4,374.7 L499.5,376.5 L500.7,378.1 L501.7,379.9 L502.6,381.8 L503.5,383.7 L504.4,385.6 L505.6,387.3 L506.7,389.2 L507.7,391.2 L508.9,393.1 L510.2,395.1 L511.1,397.3 L512.1,399.4 L513.3,401.5 L514.3,403.6 L514.8,406.0 L515.5,408.3 L516.7,410.2 L518.0,412.1 L519.0,414.0 L520.0,415.9 L521.0,417.8 L521.9,419.7 L523.2,421.4 L524.5,423.0 L525.7,424.7 L526.5,426.6 L527.6,428.3 L529.4,430.6 L531.1,432.9 L532.9,435.1 L534.2,437.6 L535.7,439.9 L537.3,442.1 L538.3,444.8 L539.7,447.4 L541.8,449.4 L543.8,451.6 L545.4,453.9 L546.8,456.4 L547.8,459.1 L548.9,461.7 L550.4,463.9 L551.6,466.2 L552.8,468.6 L554.5,470.6 L555.7,472.9 L556.8,475.1 L558.1,477.3 L559.0,479.6 L560.1,481.8 L561.9,483.5 L563.5,485.2 L564.6,487.2 L565.9,488.8 L567.5,490.2 L569.1,492.2 L570.7,494.0 L572.3,495.8 L574.0,497.4 L576.1,498.4 L578.0,499.3 L579.5,500.7 L580.8,502.5 L582.8,503.7 L584.7,505.4 L585.9,507.2 L587.4,508.7 L589.2,509.9 L591.3,510.8 L593.3,511.7 L594.8,512.9 L596.8,514.7 L598.9,516.1 L601.0,517.6 L602.9,519.2 L605.3,520.0 L607.7,520.4 L609.8,521.3 L612.0,522.2 L614.1,523.1 L616.1,524.4 L618.2,525.4 L620.5,526.0 L622.9,526.3 L625.2,526.9 L627.2,528.0 L629.4,528.7 L631.6,529.2 L633.7,529.9 L635.9,530.7 L638.0,531.3 L640.2,532.0 L642.2,533.1 L644.2,534.3 L646.5,534.6 L648.8,534.8 L650.9,535.3 L653.2,535.2 L655.5,535.0 L657.8,535.2 L659.9,536.0 L661.9,537.1 L664.2,537.6 L666.4,538.0 L668.5,538.9 L670.6,539.6 L672.8,540.1 L675.0,540.8 L677.0,541.8 L679.2,542.5 L681.4,543.1 L683.5,544.1 L685.6,545.1 L687.8,545.9 L690.2,546.4 L692.3,547.2 L694.3,548.5 L696.5,549.4 L698.8,549.8 L701.0,550.7 L702.9,552.3 L704.8,553.8 L707.0,555.0 L709.1,556.4 L711.4,557.5 L713.7,558.8 L715.3,560.1 L717.0,561.1 L718.9,562.1 L720.4,563.6 L721.9,565.1 L723.8,566.2 L725.3,567.7 L726.6,569.4 L727.9,571.1 L729.6,572.3 L731.4,573.7 L733.0,575.2 L735.2,576.4 L736.9,578.2 L738.0,580.6 L739.6,582.7 L741.5,584.7 L742.9,587.2 L743.9,588.9 L745.4,590.4 L747.2,591.8 L749.0,593.3 L750.6,595.2 L751.9,597.3 L753.4,599.4 L755.1,601.4 L756.7,603.5 L758.3,605.6 L760.3,607.4 L761.8,609.6 L763.0,611.8 L764.9,613.6 L766.7,615.5 L768.2,617.6 L769.9,619.5 L771.5,621.6 L773.3,623.4 L775.2,625.1 L776.9,627.0 L778.4,628.8 L779.8,630.8 L781.1,632.7 L782.6,634.5 L784.1,636.1 L785.9,637.5 L787.9,638.6 L789.5,640.0 L791.1,641.5 L792.7,643.0 L794.2,644.7 L795.7,646.4 L797.5,647.8 L799.5,649.0 L801.0,650.7 L802.3,652.7 L803.7,654.5 L805.5,655.9 L807.3,657.3 L808.8,659.1 L810.4,660.7 L812.3,662.2 L813.9,663.9 L815.4,665.8 L817.0,667.6 L818.7,669.4 L820.4,671.2 L822.0,672.9 L823.6,674.7 L824.9,676.7 L826.7,678.2 L828.7,679.3 L830.1,681.2 L831.4,683.0 L833.2,684.3 L835.1,685.4 L836.8,686.7 L838.0,688.5 L839.8,689.7 L841.8,690.6 L843.1,692.2 L844.4,694.0 L846.2,694.9 L848.2,695.7 L849.8,697.0 L851.1,698.7 L852.5,700.1 L855.1,701.6 L857.6,702.9 L860.0,704.2 L862.2,705.4 L864.4,706.4 L866.5,707.3 L868.3,708.4 L869.9,710.0 L871.6,711.5 L873.5,712.7 L875.4,714.0 L877.3,715.1 L879.5,716.0 L881.4,717.3 L883.0,718.9 L884.9,720.2 L886.8,721.4 L888.7,722.7 L890.8,723.6 L893.0,724.3 L895.0,725.3 L896.8,726.7 L898.7,727.7 L901.0,727.9 L903.6,728.4 L905.8,729.7 L907.6,730.7 L909.7,731.6 L911.9,732.8 L914.6,733.8 L916.7,734.2 L918.8,735.2 L920.8,736.5 L922.9,737.5 L925.3,737.8 L927.5,738.1 L929.7,738.6 L931.7,738.7 L934.3,739.5 L936.4,741.1 L938.4,742.1 L940.4,742.7 L942.3,743.6 L944.3,744.2 L946.5,744.5 L948.6,744.9 L950.7,745.6 L952.8,746.1 L955.0,746.2 L957.1,746.7 L959.1,747.7 L961.3,747.8 L963.5,748.1 L965.5,749.0 L967.6,749.6 L969.6,750.5 L971.6,751.6 L973.8,751.8 L976.1,751.6 L978.2,751.9 L980.3,752.4 L982.4,752.8 L984.5,752.6 L986.7,752.5 L988.8,752.9 L990.8,753.8 L992.9,754.5 L995.0,755.0 L997.1,755.1 L999.3,755.0 L1001.5,755.2 L1003.5,755.8 L1005.6,756.7 L1007.7,756.9 L1009.9,756.8 L1012.0,757.4 L1014.1,757.9 L1016.2,758.3 L1018.3,758.6 L1020.4,758.7 L1022.5,758.8 L1024.7,759.1 L1026.8,759.4 L1028.8,759.9 L1030.9,760.8 L1033.0,761.2 L1035.2,761.0 L1037.3,761.5 L1039.3,762.5 L1041.4,762.8 L1043.6,762.9 L1045.6,763.5 L1047.7,763.8 L1049.9,763.2 L1052.1,762.8 L1054.1,763.3 L1056.2,763.7 L1058.3,764.1 L1060.4,764.5 L1062.5,764.6 L1064.6,764.6 L1066.8,764.8 L1068.9,765.1 L1071.0,765.4 L1073.1,765.7 L1075.7,765.9 L1078.1,766.0 L1080.6,765.9 L1082.7,765.6 L1085.2,765.9 L1088.3,766.3 L1090.9,766.5 L1093.9,766.9 L1097.1,766.9 L1100.5,766.8 L1103.8,767.0 L1107.0,767.0 L1109.9,767.2 L1112.5,767.2 L1114.5,766.7 L1115.3,766.5" fill="none" stroke="#c4c4c4" stroke-width="5.2" stroke-linejoin="round" stroke-linecap="round"/>
<text x="656.5" y="287.8" font-size="37" font-weight="bold">C</text>
<text x="649.5" y="434.7" font-size="37" font-weight="bold">A</text>
<text x="649.7" y="492.1" font-size="37" font-weight="bold">B</text>
<text x="649.2" y="565.8" font-size="37" font-weight="bold">D</text>
<g stroke="#4a4a4a" stroke-width="2.2" fill="none">
<rect x="849.2" y="56.0" width="380.8" height="359.5"/>
<path d="M849.2,415.5 L849.2,422.5 M896.8,415.5 L896.8,419.5 M944.4,415.5 L944.4,422.5 M992.0,415.5 L992.0,419.5 M1039.6,415.5 L1039.6,422.5 M1087.2,415.5 L1087.2,419.5 M1134.8,415.5 L1134.8,422.5 M1182.4,415.5 L1182.4,419.5 M1230.0,415.5 L1230.0,422.5 M849.2,415.5 L842.2,415.5 M849.2,379.6 L845.2,379.6 M849.2,343.6 L842.2,343.6 M849.2,307.6 L845.2,307.6 M849.2,271.7 L842.2,271.7 M849.2,235.8 L845.2,235.8 M849.2,199.8 L842.2,199.8 M849.2,163.9 L845.2,163.9 M849.2,127.9 L842.2,127.9 M849.2,91.9 L845.2,91.9 M849.2,56.0 L842.2,56.0 "/>
</g>
<path d="M849.2,406.5 L850.4,404.4 L851.7,402.4 L852.9,401.9 L854.3,403.7 L855.6,403.4 L857.0,406.1 L858.4,407.4 L860.2,406.4 L862.1,404.9 L863.9,405.6 L865.8,405.9 L867.6,404.8 L869.5,406.5 L871.3,406.9 L873.2,406.5 L875.0,408.4 L876.5,406.2 L878.1,406.3 L879.6,406.6 L881.1,403.5 L882.7,402.9 L884.2,402.8 L885.7,404.1 L887.2,406.0 L888.6,405.8 L890.1,406.2 L891.6,407.4 L893.4,408.4 L895.2,405.1 L897.1,407.1 L898.9,405.6 L900.7,405.0 L902.6,404.5 L904.4,404.5 L906.3,405.0 L908.1,405.6 L909.9,406.2 L911.8,403.9 L913.6,404.7 L915.5,404.5 L917.3,403.7 L919.1,402.9 L921.0,402.9 L922.9,401.0 L924.7,401.9 L926.4,400.7 L928.1,401.3 L929.8,402.9 L931.5,402.5 L932.0,400.8 L932.5,399.1 L933.1,397.5 L933.6,395.8 L934.1,394.1 L936.0,392.0 L937.0,390.4 L938.0,388.9 L938.8,390.9 L939.5,393.0 L940.6,392.8 L941.1,391.2 L941.6,389.6 L942.1,387.9 L942.6,386.3 L942.8,384.6 L943.0,382.8 L943.2,381.1 L943.5,379.4 L943.7,377.6 L943.9,375.9 L944.9,374.6 L945.8,373.3 L946.8,372.0 L947.8,370.7 L948.8,369.1 L949.8,367.4 L950.7,365.8 L951.7,364.1 L951.7,362.4 L951.7,360.6 L951.7,358.9 L951.7,357.2 L951.7,355.5 L951.7,353.7 L951.7,352.0 L951.9,350.0 L952.0,348.0 L952.2,346.0 L953.2,349.0 L953.4,346.8 L953.6,344.6 L953.8,342.9 L954.0,341.1 L954.2,339.4 L954.5,337.7 L954.7,335.9 L954.9,334.2 L955.9,332.6 L956.8,330.9 L957.8,329.3 L958.8,327.7 L960.8,326.2 L962.7,325.1 L963.0,323.3 L963.2,321.5 L963.5,319.6 L963.7,317.8 L964.0,316.0 L964.3,314.4 L964.6,312.8 L965.0,311.1 L965.3,309.5 L965.6,307.9 L966.0,306.2 L966.3,304.6 L966.6,303.0 L967.9,304.6 L969.2,306.3 L970.9,305.5 L972.7,306.1 L974.4,305.6 L975.3,303.7 L976.1,301.7 L977.0,299.8 L977.9,301.3 L978.7,302.8 L979.6,304.3 L980.5,305.7 L981.5,307.1 L982.4,308.5 L983.3,309.9 L984.2,311.3 L985.2,312.7 L986.1,314.1 L986.8,312.6 L987.4,311.1 L988.1,309.7 L988.7,308.2 L988.9,306.5 L989.1,304.7 L989.4,303.0 L989.6,301.3 L989.8,299.5 L990.0,297.8 L991.5,300.0 L992.3,298.4 L993.1,296.8 L993.9,295.2 L994.5,297.0 L995.2,295.4 L995.8,293.9 L996.5,292.3 L996.5,290.7 L996.5,289.0 L996.5,287.4 L996.5,285.8 L996.5,284.1 L996.5,282.5 L996.5,280.9 L996.5,279.2 L996.5,277.6 L996.9,275.8 L997.2,273.9 L997.6,272.1 L997.9,270.2 L998.3,268.4 L998.3,266.8 L998.3,265.1 L998.3,263.5 L998.3,261.8 L998.3,260.2 L998.3,258.5 L998.3,256.9 L998.3,255.2 L998.3,253.6 L998.3,251.9 L998.4,250.3 L998.4,248.7 L998.4,247.0 L998.4,245.4 L998.4,243.7 L998.4,242.1 L998.4,240.4 L998.4,238.8 L998.4,237.1 L998.4,235.5 L999.3,237.3 L1000.3,239.2 L1001.2,241.0 L1001.3,239.3 L1001.5,237.7 L1001.6,236.0 L1001.8,234.3 L1001.9,232.7 L1002.1,231.0 L1002.2,229.3 L1002.4,227.7 L1002.5,226.0 L1002.9,224.0 L1003.3,222.0 L1003.3,220.2 L1003.2,218.5 L1003.2,216.8 L1003.1,215.0 L1003.1,213.2 L1003.1,211.5 L1003.0,209.8 L1003.0,208.0 L1005.0,206.0 L1005.0,207.7 L1005.1,209.3 L1005.1,211.0 L1005.2,212.7 L1005.2,214.3 L1005.3,216.0 L1005.3,217.7 L1005.4,219.3 L1005.4,221.0 L1004.4,218.0 L1004.4,216.3 L1004.5,214.7 L1004.5,213.0 L1004.5,211.3 L1004.6,209.7 L1004.6,208.0 L1004.7,206.3 L1004.8,204.6 L1004.9,202.9 L1005.0,201.2 L1005.1,199.5 L1005.2,197.8 L1005.3,196.1 L1005.4,194.4 L1005.5,192.7 L1005.6,191.0 L1005.7,189.3 L1005.8,187.6 L1006.0,186.0 L1006.2,184.3 L1006.4,182.7 L1006.6,181.1 L1006.8,179.4 L1007.0,177.8 L1007.2,176.2 L1007.4,174.5 L1007.6,172.9 L1008.0,171.3 L1008.3,169.7 L1008.6,168.1 L1009.0,166.4 L1009.4,164.8 L1009.7,163.2 L1010.0,161.6 L1010.4,160.0 L1010.7,158.4 L1011.1,156.8 L1011.4,155.1 L1011.8,153.5 L1012.1,151.9 L1012.4,150.2 L1012.8,148.6 L1013.1,147.0 L1013.8,145.5 L1014.5,144.0 L1014.2,142.2 L1013.9,140.5 L1013.6,138.8 L1013.4,137.0 L1013.1,135.2 L1012.8,133.5 L1012.5,131.8 L1012.2,130.0 L1013.5,131.0 L1013.8,132.7 L1014.2,134.3 L1014.5,136.0 L1014.8,137.7 L1015.2,139.3 L1015.5,141.0 L1016.2,138.0 L1015.7,136.0 L1015.1,134.0 L1014.6,132.0 L1016.8,134.0 L1017.0,132.2 L1017.3,130.4 L1017.5,128.6 L1017.8,126.8 L1017.9,125.1 L1018.0,123.5 L1018.1,121.8 L1018.2,120.2 L1018.2,118.5 L1018.3,116.9 L1018.4,115.2 L1018.5,113.6 L1018.6,112.0 L1018.7,110.3 L1019.9,111.4 L1021.2,112.1 L1022.4,113.9 L1022.7,112.2 L1023.0,110.5 L1023.3,108.8 L1023.6,107.2 L1023.9,105.5 L1024.2,103.8 L1024.8,105.3 L1025.4,106.9 L1026.0,108.4 L1026.0,110.1 L1026.0,111.7 L1026.0,113.4 L1026.0,115.1 L1026.0,116.8 L1026.0,118.4 L1026.0,120.1 L1026.0,121.8 L1026.0,123.5 L1026.0,125.1 L1026.0,126.8 L1026.4,128.4 L1026.8,130.1 L1027.2,131.7 L1027.6,133.4 L1028.1,135.0 L1028.5,136.7 L1028.9,138.3 L1029.3,140.0 L1029.7,141.6 L1030.0,143.2 L1030.2,144.8 L1030.5,146.3 L1030.8,147.9 L1031.0,149.5 L1031.3,151.1 L1031.6,152.6 L1031.8,154.2 L1032.1,155.8 L1032.3,157.4 L1032.6,159.0 L1032.9,160.5 L1033.1,162.1 L1033.4,163.7 L1033.5,165.4 L1033.5,167.1 L1033.6,168.8 L1033.7,170.5 L1033.7,172.2 L1033.8,173.9 L1033.9,175.6 L1034.0,177.3 L1034.0,179.0 L1034.1,180.7 L1034.2,182.4 L1034.2,184.1 L1034.3,185.8 L1034.5,187.5 L1034.6,189.1 L1034.8,190.8 L1035.0,192.5 L1035.2,194.2 L1035.3,195.8 L1035.5,197.5 L1035.7,199.2 L1035.9,200.9 L1036.0,202.5 L1036.2,204.2 L1036.3,205.8 L1036.4,207.5 L1036.5,209.1 L1036.6,210.7 L1036.7,212.4 L1036.8,214.0 L1036.9,215.6 L1037.0,217.3 L1037.1,218.9 L1038.6,220.4 L1040.2,220.8 L1041.7,220.8 L1041.7,222.4 L1041.7,224.1 L1041.7,225.7 L1041.7,227.3 L1041.7,229.0 L1041.7,230.6 L1041.7,232.2 L1041.7,233.9 L1041.7,235.5 L1041.7,237.1 L1041.7,238.8 L1041.7,240.4 L1041.7,242.0 L1041.7,243.7 L1041.7,245.3 L1041.7,246.9 L1041.7,248.6 L1041.7,250.2 L1042.2,252.0 L1042.8,253.8 L1043.3,255.6 L1043.8,257.4 L1043.8,259.0 L1043.9,260.7 L1044.0,262.3 L1044.0,263.9 L1044.0,265.6 L1044.1,267.2 L1044.2,268.8 L1044.2,270.5 L1044.2,272.1 L1044.3,273.7 L1044.3,275.4 L1044.4,277.0 L1044.5,278.6 L1044.5,280.3 L1044.5,281.9 L1044.6,283.5 L1044.7,285.2 L1044.7,286.8 L1044.9,288.4 L1045.2,290.0 L1045.4,291.6 L1045.7,293.2 L1045.9,294.8 L1046.2,296.4 L1046.4,298.0 L1046.7,299.6 L1046.9,301.2 L1047.2,302.8 L1047.4,304.4 L1047.7,306.0 L1047.9,307.6 L1048.2,309.2 L1048.4,310.8 L1048.5,312.5 L1048.7,314.2 L1048.8,315.9 L1049.0,317.6 L1049.1,319.3 L1049.3,321.0 L1049.4,322.7 L1049.6,324.4 L1049.7,326.1 L1049.9,327.8 L1050.0,329.5 L1050.2,331.2 L1050.3,332.9 L1050.8,334.5 L1051.2,336.1 L1051.7,337.7 L1052.1,339.4 L1052.5,341.0 L1053.0,342.6 L1053.5,344.2 L1053.9,345.8 L1054.3,347.4 L1054.7,349.1 L1055.1,350.7 L1055.5,352.3 L1056.0,354.0 L1056.4,355.6 L1056.8,357.2 L1057.2,358.9 L1057.6,360.5 L1058.4,362.0 L1059.1,363.6 L1059.9,365.1 L1060.7,366.6 L1061.4,368.2 L1062.2,369.7 L1062.7,371.2 L1063.1,372.8 L1063.6,374.3 L1064.1,375.8 L1064.5,377.4 L1065.0,378.9 L1065.2,380.5 L1065.5,382.1 L1065.7,383.8 L1065.9,385.4 L1066.6,383.8 L1067.3,382.1 L1068.0,380.5 L1068.7,378.9 L1069.6,380.3 L1070.5,381.7 L1071.5,383.0 L1072.4,384.4 L1073.3,385.8 L1074.2,387.2 L1076.0,386.4 L1077.9,387.4 L1079.7,387.2 L1080.2,385.6 L1080.7,384.0 L1081.1,382.4 L1081.6,380.8 L1081.9,382.5 L1082.1,384.2 L1082.4,385.9 L1082.6,387.7 L1082.9,389.4 L1083.1,391.1 L1083.4,392.8 L1085.2,391.9 L1087.1,392.1 L1088.9,390.0 L1090.3,391.6 L1091.7,391.2 L1093.1,394.2 L1094.5,393.7 L1095.4,391.9 L1096.3,390.0 L1097.7,387.5 L1099.0,387.0 L1100.4,386.6 L1101.8,384.5 L1103.7,384.1 L1105.5,385.8 L1107.3,385.1 L1109.2,387.2 L1111.0,388.4 L1112.9,389.4 L1114.8,389.5 L1116.6,390.0 L1118.4,391.1 L1120.2,389.4 L1122.1,390.6 L1123.9,390.0 L1125.3,391.4 L1126.7,392.5 L1128.1,393.3 L1129.5,394.6 L1130.9,394.7 L1132.2,394.1 L1133.6,391.8 L1135.0,391.0 L1136.8,391.5 L1138.7,389.7 L1140.5,391.6 L1142.4,391.4 L1144.2,391.0 L1144.7,392.6 L1145.1,394.2 L1145.5,395.8 L1146.0,397.4 L1147.4,397.5 L1148.8,395.6 L1150.2,392.6 L1151.6,391.8 L1153.1,392.2 L1154.5,393.8 L1156.0,392.6 L1157.4,394.6 L1158.9,395.5 L1160.8,395.0 L1162.6,395.3 L1164.5,395.6 L1166.3,397.4 L1167.5,397.0 L1168.8,393.8 L1170.0,393.7 L1171.8,392.9 L1173.7,393.4 L1175.6,394.8 L1177.4,393.7 L1179.2,391.8 L1181.1,392.3 L1182.9,391.8 L1184.1,393.2 L1185.3,395.4 L1186.6,396.5 L1187.8,397.8 L1189.0,397.3 L1190.2,399.2 L1191.7,397.8 L1193.2,396.6 L1194.6,397.1 L1196.1,396.2 L1197.6,393.7 L1199.1,393.6 L1200.7,394.6 L1202.2,395.6 L1203.7,396.6 L1205.3,398.2 L1206.8,399.2 L1208.1,398.6 L1209.4,396.7 L1210.7,395.0 L1212.1,395.3 L1213.4,394.2 L1214.7,393.9 L1216.0,392.8 L1217.4,395.3 L1218.8,395.7 L1220.2,396.3 L1221.6,397.4 L1223.4,397.8 L1225.3,397.9 L1227.2,396.1 L1229.0,397.4" fill="none" stroke="#3a3a3a" stroke-width="2.3" stroke-linejoin="round"/>
<text x="847.2" y="440.6" font-size="19" text-anchor="middle" fill="#4a4a4a" stroke="#4a4a4a" stroke-width="0.45">200</text>
<text x="942.4" y="440.6" font-size="19" text-anchor="middle" fill="#4a4a4a" stroke="#4a4a4a" stroke-width="0.45">250</text>
<text x="1037.6" y="440.6" font-size="19" text-anchor="middle" fill="#4a4a4a" stroke="#4a4a4a" stroke-width="0.45">300</text>
<text x="1132.8" y="440.6" font-size="19" text-anchor="middle" fill="#4a4a4a" stroke="#4a4a4a" stroke-width="0.45">350</text>
<text x="1228.0" y="440.6" font-size="19" text-anchor="middle" fill="#4a4a4a" stroke="#4a4a4a" stroke-width="0.45">400</text>
<text x="837.5" y="420.9" font-size="19" text-anchor="end" fill="#4a4a4a" stroke="#4a4a4a" stroke-width="0.45">0.0</text>
<text x="837.5" y="349.0" font-size="19" text-anchor="end" fill="#4a4a4a" stroke="#4a4a4a" stroke-width="0.45">0.2</text>
<text x="837.5" y="277.1" font-size="19" text-anchor="end" fill="#4a4a4a" stroke="#4a4a4a" stroke-width="0.45">0.4</text>
<text x="837.5" y="205.2" font-size="19" text-anchor="end" fill="#4a4a4a" stroke="#4a4a4a" stroke-width="0.45">0.6</text>
<text x="837.5" y="133.3" font-size="19" text-anchor="end" fill="#4a4a4a" stroke="#4a4a4a" stroke-width="0.45">0.8</text>
<text x="837.5" y="61.4" font-size="19" text-anchor="end" fill="#4a4a4a" stroke="#4a4a4a" stroke-width="0.45">1.0</text>
<text transform="translate(981.8,34.4) scale(0.88,1)" font-size="33.5" textLength="140.5" lengthAdjust="spacing" stroke="#000" stroke-width="0.5">Exc. Sp.</text>
<text transform="translate(794,317.2) rotate(-90)" font-size="31" textLength="121.5" lengthAdjust="spacingAndGlyphs" stroke="#000" stroke-width="0.6">intensity</text>
<text x="915.9" y="486" font-size="32" textLength="245.7" lengthAdjust="spacingAndGlyphs" stroke="#000" stroke-width="0.5">wavelength [nm]</text>
</g></svg></body></html>
